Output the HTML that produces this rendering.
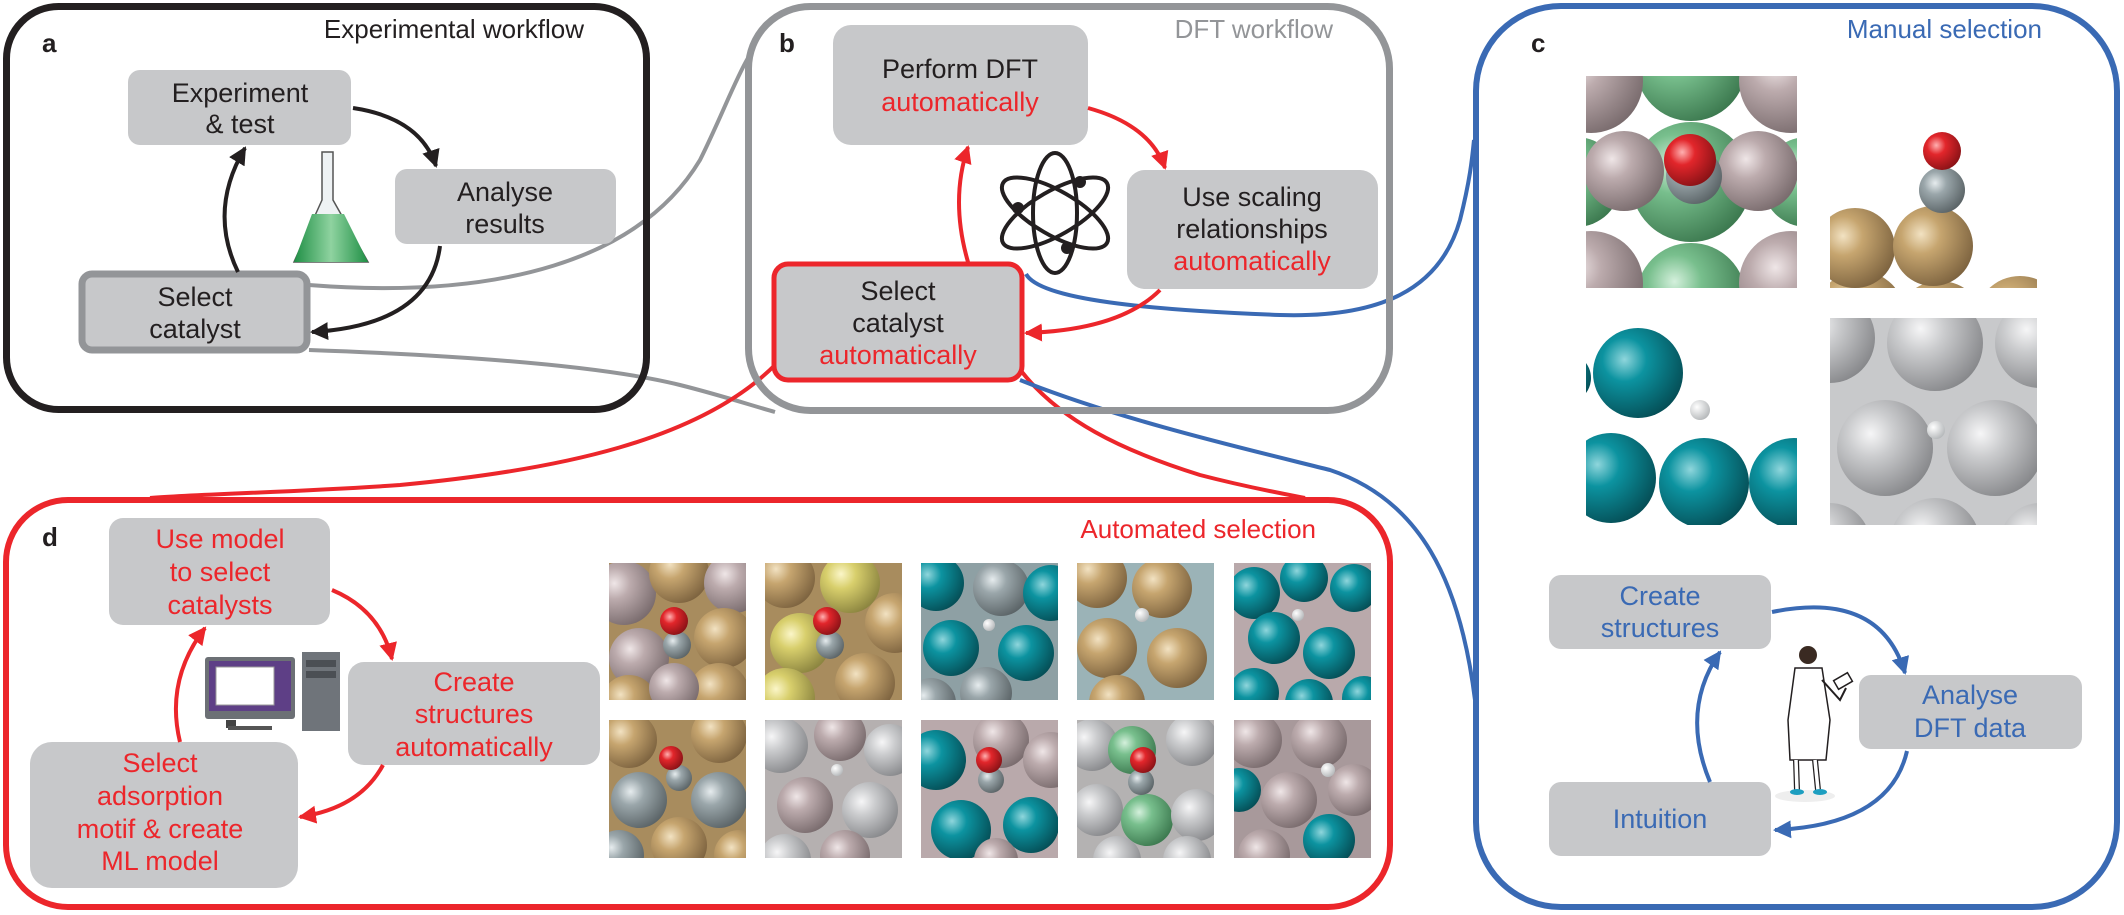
<!DOCTYPE html>
<html><head><meta charset="utf-8"><style>
html,body{margin:0;padding:0;background:#fff;}
svg{display:block;font-family:"Liberation Sans",sans-serif;}
</style></head><body>
<svg width="2124" height="915" viewBox="0 0 2124 915" xmlns="http://www.w3.org/2000/svg">
<defs>
<marker id="mk" markerUnits="userSpaceOnUse" markerWidth="22" markerHeight="22" refX="16" refY="9" orient="auto"><path d="M0,0 L18,9 L0,18 Z" fill="#231f20"/></marker>
<marker id="mr" markerUnits="userSpaceOnUse" markerWidth="22" markerHeight="22" refX="16" refY="9" orient="auto"><path d="M0,0 L18,9 L0,18 Z" fill="#ec262b"/></marker>
<marker id="mb" markerUnits="userSpaceOnUse" markerWidth="22" markerHeight="22" refX="16" refY="9" orient="auto"><path d="M0,0 L18,9 L0,18 Z" fill="#3a6ab4"/></marker>
<radialGradient id="gtan" cx="35%" cy="35%" r="70%"><stop offset="0" stop-color="#f2e2c2"/><stop offset=".35" stop-color="#c6a56f"/><stop offset="1" stop-color="#7e6440"/></radialGradient>
<radialGradient id="gteal" cx="35%" cy="35%" r="70%"><stop offset="0" stop-color="#8fd6dc"/><stop offset=".35" stop-color="#0c93a0"/><stop offset="1" stop-color="#054f57"/></radialGradient>
<radialGradient id="ggray" cx="35%" cy="35%" r="70%"><stop offset="0" stop-color="#e6ecee"/><stop offset=".35" stop-color="#9aa6aa"/><stop offset="1" stop-color="#5b6467"/></radialGradient>
<radialGradient id="glg" cx="35%" cy="35%" r="70%"><stop offset="0" stop-color="#f6f6f7"/><stop offset=".35" stop-color="#cbccce"/><stop offset="1" stop-color="#88898c"/></radialGradient>
<radialGradient id="gpink" cx="35%" cy="35%" r="70%"><stop offset="0" stop-color="#efe6e7"/><stop offset=".35" stop-color="#bcabad"/><stop offset="1" stop-color="#7a6c6e"/></radialGradient>
<radialGradient id="ggreen" cx="35%" cy="35%" r="70%"><stop offset="0" stop-color="#d4f0dc"/><stop offset=".35" stop-color="#78bf8d"/><stop offset="1" stop-color="#3d7a50"/></radialGradient>
<radialGradient id="gred" cx="35%" cy="35%" r="70%"><stop offset="0" stop-color="#ffb0b0"/><stop offset=".35" stop-color="#e2262b"/><stop offset="1" stop-color="#8a1216"/></radialGradient>
<radialGradient id="gyel" cx="35%" cy="35%" r="70%"><stop offset="0" stop-color="#fbf6c8"/><stop offset=".35" stop-color="#d8cf6c"/><stop offset="1" stop-color="#8c8540"/></radialGradient>
<radialGradient id="gwh" cx="35%" cy="35%" r="70%"><stop offset="0" stop-color="#ffffff"/><stop offset="1" stop-color="#b5b8ba"/></radialGradient>
<linearGradient id="flaskg" x1="0" x2="1"><stop offset="0" stop-color="#1f8f45"/><stop offset=".5" stop-color="#8fd3a0"/><stop offset="1" stop-color="#1f8f45"/></linearGradient>
</defs>

<!-- connectors -->
<path d="M309,285 C500,300 640,260 700,160 C720,120 735,80 748,58" fill="none" stroke="#939598" stroke-width="4"/>
<path d="M309,350 C450,355 600,365 680,385 C720,395 750,405 775,412" fill="none" stroke="#939598" stroke-width="4"/>
<path d="M775,365 C700,440 560,470 400,485 C300,492 200,494 150,498" fill="none" stroke="#ec262b" stroke-width="4"/>
<path d="M1022,372 C1060,420 1120,450 1200,475 C1250,488 1290,495 1305,498" fill="none" stroke="#ec262b" stroke-width="4"/>
<path d="M1020,380 C1120,420 1250,450 1330,470 C1420,500 1460,580 1475,700" fill="none" stroke="#3a6ab4" stroke-width="4"/>
<path d="M1026,274 C1040,300 1150,310 1280,315 C1380,318 1440,290 1460,220 C1470,180 1472,160 1474,140" fill="none" stroke="#3a6ab4" stroke-width="4"/>

<!-- panel a -->
<rect x="6.5" y="6.5" width="640" height="403" rx="52" fill="none" stroke="#231f20" stroke-width="7"/>
<text x="42" y="52" font-size="26" font-weight="bold" fill="#231f20">a</text>
<text x="584" y="38" font-size="26" fill="#231f20" text-anchor="end">Experimental workflow</text>
<rect x="128" y="70" width="223" height="75" rx="12" fill="#c7c8ca"/>
<text x="240" y="93" font-size="27" fill="#231f20" text-anchor="middle" dominant-baseline="central">Experiment</text>
<text x="240" y="124" font-size="27" fill="#231f20" text-anchor="middle" dominant-baseline="central">&amp; test</text>
<rect x="395" y="169" width="221" height="75" rx="12" fill="#c7c8ca"/>
<text x="505" y="192" font-size="27" fill="#231f20" text-anchor="middle" dominant-baseline="central">Analyse</text>
<text x="505" y="224" font-size="27" fill="#231f20" text-anchor="middle" dominant-baseline="central">results</text>
<rect x="82" y="274" width="225" height="76" rx="10" fill="#c7c8ca" stroke="#939598" stroke-width="7"/>
<text x="195" y="297" font-size="27" fill="#231f20" text-anchor="middle" dominant-baseline="central">Select</text>
<text x="195" y="329" font-size="27" fill="#231f20" text-anchor="middle" dominant-baseline="central">catalyst</text>
<!-- flask -->
<path d="M322,152 L333,152 L333,200 L368,262 L294,262 L322,200 Z" fill="#eef2f4" stroke="#555" stroke-width="1.5"/>
<path d="M312,214 L344,214 L368,262 L294,262 Z" fill="url(#flaskg)"/>
<path d="M353,108 Q420,118 436,166" fill="none" stroke="#231f20" stroke-width="4" marker-end="url(#mk)"/>
<path d="M440,246 Q430,325 312,332" fill="none" stroke="#231f20" stroke-width="4" marker-end="url(#mk)"/>
<path d="M238,272 Q208,210 245,148" fill="none" stroke="#231f20" stroke-width="4" marker-end="url(#mk)"/>

<!-- panel b -->
<rect x="748.5" y="6.5" width="641" height="404" rx="62" fill="none" stroke="#939598" stroke-width="7"/>
<text x="779" y="52" font-size="26" font-weight="bold" fill="#231f20">b</text>
<text x="1333" y="38" font-size="26" fill="#939598" text-anchor="end">DFT workflow</text>
<rect x="833" y="25" width="255" height="120" rx="18" fill="#c7c8ca"/>
<text x="960" y="69" font-size="27" fill="#231f20" text-anchor="middle" dominant-baseline="central">Perform DFT</text>
<text x="960" y="102" font-size="27" fill="#ec262b" text-anchor="middle" dominant-baseline="central">automatically</text>
<rect x="1127" y="170" width="251" height="119" rx="18" fill="#c7c8ca"/>
<text x="1252" y="197" font-size="27" fill="#231f20" text-anchor="middle" dominant-baseline="central">Use scaling</text>
<text x="1252" y="229" font-size="27" fill="#231f20" text-anchor="middle" dominant-baseline="central">relationships</text>
<text x="1252" y="261" font-size="27" fill="#ec262b" text-anchor="middle" dominant-baseline="central">automatically</text>
<rect x="774" y="264" width="248" height="116" rx="14" fill="#c7c8ca" stroke="#ec262b" stroke-width="5"/>
<text x="898" y="291" font-size="27" fill="#231f20" text-anchor="middle" dominant-baseline="central">Select</text>
<text x="898" y="323" font-size="27" fill="#231f20" text-anchor="middle" dominant-baseline="central">catalyst</text>
<text x="898" y="355" font-size="27" fill="#ec262b" text-anchor="middle" dominant-baseline="central">automatically</text>
<g fill="none" stroke="#231f20" stroke-width="4">
<ellipse cx="1055" cy="213" rx="22" ry="60"/>
<ellipse cx="1055" cy="213" rx="22" ry="60" transform="rotate(60 1055 213)"/>
<ellipse cx="1055" cy="213" rx="22" ry="60" transform="rotate(-60 1055 213)"/>
</g>
<circle cx="1080" cy="182" r="6" fill="#231f20"/><circle cx="1018" cy="208" r="6" fill="#231f20"/><circle cx="1067" cy="248" r="6" fill="#231f20"/>
<path d="M1088,108 Q1150,125 1165,168" fill="none" stroke="#ec262b" stroke-width="4" marker-end="url(#mr)"/>
<path d="M1160,290 Q1120,330 1026,333" fill="none" stroke="#ec262b" stroke-width="4" marker-end="url(#mr)"/>
<path d="M968,262 Q950,200 968,147" fill="none" stroke="#ec262b" stroke-width="4" marker-end="url(#mr)"/>

<!-- panel c -->
<rect x="1476" y="6" width="641" height="901" rx="85" fill="none" stroke="#3a6ab4" stroke-width="6"/>
<text x="1531" y="52" font-size="26" font-weight="bold" fill="#231f20">c</text>
<text x="2042" y="38" font-size="26" fill="#3a6ab4" text-anchor="end">Manual selection</text>
<svg x="1586" y="76" width="211" height="212"><rect width="211" height="212" fill="#fff"/>
<circle cx="105" cy="106" r="60" fill="url(#ggreen)"/><circle cx="105" cy="-10" r="55" fill="url(#ggreen)"/><circle cx="105" cy="222" r="55" fill="url(#ggreen)"/><circle cx="-10" cy="106" r="45" fill="url(#ggreen)"/><circle cx="221" cy="106" r="45" fill="url(#ggreen)"/>
<circle cx="5" cy="5" r="52" fill="url(#gpink)"/><circle cx="205" cy="5" r="52" fill="url(#gpink)"/><circle cx="5" cy="207" r="52" fill="url(#gpink)"/><circle cx="205" cy="207" r="52" fill="url(#gpink)"/>
<circle cx="38" cy="95" r="40" fill="url(#gpink)"/><circle cx="172" cy="95" r="40" fill="url(#gpink)"/>
<circle cx="108" cy="100" r="28" fill="url(#ggray)"/><circle cx="104" cy="84" r="26" fill="url(#gred)"/></svg>
<svg x="1830" y="76" width="207" height="212"><rect width="207" height="212" fill="#fff"/>
<circle cx="30" cy="240" r="45" fill="url(#gtan)"/><circle cx="110" cy="250" r="45" fill="url(#gtan)"/><circle cx="190" cy="245" r="45" fill="url(#gtan)"/>
<circle cx="25" cy="172" r="40" fill="url(#gtan)"/><circle cx="103" cy="170" r="40" fill="url(#gtan)"/>
<circle cx="112" cy="114" r="23" fill="url(#ggray)"/><circle cx="112" cy="75" r="19" fill="url(#gred)"/></svg>
<svg x="1586" y="318" width="211" height="207"><rect width="211" height="207" fill="#fff"/>
<circle cx="52" cy="55" r="45" fill="url(#gteal)"/><circle cx="25" cy="160" r="45" fill="url(#gteal)"/><circle cx="118" cy="165" r="45" fill="url(#gteal)"/><circle cx="208" cy="165" r="45" fill="url(#gteal)"/><circle cx="-20" cy="60" r="25" fill="url(#gteal)"/>
<circle cx="114" cy="92" r="10" fill="url(#gwh)"/></svg>
<svg x="1830" y="318" width="207" height="207"><rect width="207" height="207" fill="#c8c9cb"/>
<circle cx="0" cy="20" r="45" fill="url(#glg)"/><circle cx="105" cy="25" r="48" fill="url(#glg)"/><circle cx="210" cy="25" r="45" fill="url(#glg)"/>
<circle cx="55" cy="130" r="48" fill="url(#glg)"/><circle cx="165" cy="130" r="48" fill="url(#glg)"/>
<circle cx="105" cy="225" r="45" fill="url(#glg)"/><circle cx="0" cy="225" r="40" fill="url(#glg)"/><circle cx="210" cy="225" r="40" fill="url(#glg)"/>
<circle cx="106" cy="112" r="9" fill="url(#gwh)"/></svg>
<rect x="1549" y="575" width="222" height="74" rx="12" fill="#c7c8ca"/>
<text x="1660" y="596" font-size="27" fill="#3a6ab4" text-anchor="middle" dominant-baseline="central">Create</text>
<text x="1660" y="628" font-size="27" fill="#3a6ab4" text-anchor="middle" dominant-baseline="central">structures</text>
<rect x="1859" y="675" width="223" height="74" rx="12" fill="#c7c8ca"/>
<text x="1970" y="695" font-size="27" fill="#3a6ab4" text-anchor="middle" dominant-baseline="central">Analyse</text>
<text x="1970" y="728" font-size="27" fill="#3a6ab4" text-anchor="middle" dominant-baseline="central">DFT data</text>
<rect x="1549" y="782" width="222" height="74" rx="12" fill="#c7c8ca"/>
<text x="1660" y="819" font-size="27" fill="#3a6ab4" text-anchor="middle" dominant-baseline="central">Intuition</text>
<path d="M1772,612 Q1880,590 1905,673" fill="none" stroke="#3a6ab4" stroke-width="4" marker-end="url(#mb)"/>
<path d="M1907,751 Q1890,825 1775,830" fill="none" stroke="#3a6ab4" stroke-width="4" marker-end="url(#mb)"/>
<path d="M1710,782 Q1680,710 1720,652" fill="none" stroke="#3a6ab4" stroke-width="4" marker-end="url(#mb)"/>
<!-- scientist -->
<ellipse cx="1805" cy="796" rx="30" ry="6" fill="#eee"/>
<circle cx="1808" cy="655" r="9" fill="#3a2a22"/>
<path d="M1795,668 L1822,668 L1830,720 L1826,760 L1790,760 L1788,720 Z" fill="#fff" stroke="#231f20" stroke-width="1.5"/>
<path d="M1796,760 L1797,790 M1815,760 L1818,790" stroke="#231f20" stroke-width="6"/>
<path d="M1796,760 L1797,790 M1815,760 L1818,790" stroke="#fff" stroke-width="3.5"/>
<ellipse cx="1797" cy="792" rx="7" ry="3" fill="#1d9ec0"/><ellipse cx="1820" cy="792" rx="7" ry="3" fill="#1d9ec0"/>
<path d="M1822,680 L1840,700 L1846,688" fill="none" stroke="#231f20" stroke-width="2"/>
<rect x="1835" y="676" width="16" height="10" fill="#fff" stroke="#231f20" stroke-width="1.5" transform="rotate(-30 1843 681)"/>

<!-- panel d -->
<rect x="6" y="500" width="1384" height="407" rx="62" fill="none" stroke="#ec262b" stroke-width="6"/>
<text x="42" y="546" font-size="26" font-weight="bold" fill="#231f20">d</text>
<text x="1316" y="538" font-size="26" fill="#ec262b" text-anchor="end">Automated selection</text>
<rect x="109" y="518" width="221" height="107" rx="14" fill="#c7c8ca"/>
<text x="220" y="539" font-size="27" fill="#ec262b" text-anchor="middle" dominant-baseline="central">Use model</text>
<text x="220" y="572" font-size="27" fill="#ec262b" text-anchor="middle" dominant-baseline="central">to select</text>
<text x="220" y="605" font-size="27" fill="#ec262b" text-anchor="middle" dominant-baseline="central">catalysts</text>
<rect x="348" y="662" width="252" height="103" rx="16" fill="#c7c8ca"/>
<text x="474" y="682" font-size="27" fill="#ec262b" text-anchor="middle" dominant-baseline="central">Create</text>
<text x="474" y="714" font-size="27" fill="#ec262b" text-anchor="middle" dominant-baseline="central">structures</text>
<text x="474" y="747" font-size="27" fill="#ec262b" text-anchor="middle" dominant-baseline="central">automatically</text>
<rect x="30" y="742" width="268" height="146" rx="22" fill="#c7c8ca"/>
<text x="160" y="763" font-size="27" fill="#ec262b" text-anchor="middle" dominant-baseline="central">Select</text>
<text x="160" y="796" font-size="27" fill="#ec262b" text-anchor="middle" dominant-baseline="central">adsorption</text>
<text x="160" y="829" font-size="27" fill="#ec262b" text-anchor="middle" dominant-baseline="central">motif &amp; create</text>
<text x="160" y="861" font-size="27" fill="#ec262b" text-anchor="middle" dominant-baseline="central">ML model</text>
<!-- computer -->
<rect x="205" y="657" width="90" height="62" rx="3" fill="#6c7075"/>
<rect x="209" y="661" width="82" height="50" fill="#5e3f86"/>
<rect x="216" y="667" width="58" height="38" fill="#fff" stroke="#999"/>
<rect x="226" y="720" width="10" height="8" fill="#444"/><rect x="228" y="726" width="44" height="4" fill="#555"/>
<rect x="302" y="652" width="38" height="79" fill="#6f747a"/>
<rect x="306" y="660" width="30" height="7" fill="#4b4f54"/><rect x="306" y="671" width="30" height="7" fill="#4b4f54"/>
<path d="M332,590 Q380,610 392,659" fill="none" stroke="#ec262b" stroke-width="4" marker-end="url(#mr)"/>
<path d="M383,765 Q360,808 300,817" fill="none" stroke="#ec262b" stroke-width="4" marker-end="url(#mr)"/>
<path d="M180,742 Q165,680 205,628" fill="none" stroke="#ec262b" stroke-width="4" marker-end="url(#mr)"/>

<!-- d tiles row 1 -->
<svg x="609" y="563" width="137" height="137"><rect width="137" height="137" fill="#a88c5e"/>
<circle cx="15" cy="30" r="32" fill="url(#gpink)"/><circle cx="70" cy="10" r="30" fill="url(#gtan)"/><circle cx="125" cy="20" r="30" fill="url(#gpink)"/><circle cx="115" cy="75" r="30" fill="url(#gtan)"/><circle cx="30" cy="95" r="30" fill="url(#gpink)"/><circle cx="20" cy="140" r="28" fill="url(#gtan)"/><circle cx="110" cy="130" r="30" fill="url(#gtan)"/><circle cx="65" cy="125" r="25" fill="url(#gpink)"/>
<circle cx="68" cy="82" r="14" fill="url(#ggray)"/><circle cx="65" cy="58" r="14" fill="url(#gred)"/></svg>
<svg x="765" y="563" width="137" height="137"><rect width="137" height="137" fill="#a88c5e"/>
<circle cx="20" cy="15" r="30" fill="url(#gtan)"/><circle cx="85" cy="20" r="30" fill="url(#gyel)"/><circle cx="130" cy="60" r="30" fill="url(#gtan)"/><circle cx="35" cy="80" r="30" fill="url(#gyel)"/><circle cx="20" cy="135" r="30" fill="url(#gyel)"/><circle cx="100" cy="120" r="30" fill="url(#gtan)"/>
<circle cx="65" cy="82" r="14" fill="url(#ggray)"/><circle cx="62" cy="58" r="14" fill="url(#gred)"/></svg>
<svg x="921" y="563" width="137" height="137"><rect width="137" height="137" fill="#8ea0a4"/>
<circle cx="15" cy="20" r="28" fill="url(#gteal)"/><circle cx="80" cy="25" r="28" fill="url(#ggray)"/><circle cx="130" cy="30" r="28" fill="url(#gteal)"/><circle cx="30" cy="85" r="28" fill="url(#gteal)"/><circle cx="105" cy="90" r="28" fill="url(#gteal)"/><circle cx="65" cy="130" r="26" fill="url(#ggray)"/><circle cx="10" cy="140" r="25" fill="url(#ggray)"/>
<circle cx="68" cy="62" r="6" fill="url(#gwh)"/></svg>
<svg x="1077" y="563" width="137" height="137"><rect width="137" height="137" fill="#9bb3b7"/>
<circle cx="20" cy="15" r="30" fill="url(#gtan)"/><circle cx="85" cy="25" r="30" fill="url(#gtan)"/><circle cx="30" cy="85" r="30" fill="url(#gtan)"/><circle cx="100" cy="95" r="30" fill="url(#gtan)"/><circle cx="40" cy="140" r="28" fill="url(#gtan)"/>
<circle cx="65" cy="52" r="7" fill="url(#gwh)"/></svg>
<svg x="1234" y="563" width="137" height="137"><rect width="137" height="137" fill="#b9a9ab"/>
<circle cx="20" cy="30" r="26" fill="url(#gteal)"/><circle cx="70" cy="15" r="24" fill="url(#gteal)"/><circle cx="120" cy="25" r="24" fill="url(#gteal)"/><circle cx="40" cy="75" r="26" fill="url(#gteal)"/><circle cx="95" cy="90" r="26" fill="url(#gteal)"/><circle cx="20" cy="130" r="25" fill="url(#gteal)"/><circle cx="75" cy="140" r="24" fill="url(#gteal)"/><circle cx="130" cy="135" r="22" fill="url(#gteal)"/>
<circle cx="64" cy="52" r="6" fill="url(#gwh)"/></svg>
<!-- row 2 -->
<svg x="609" y="720" width="137" height="138"><rect width="137" height="138" fill="#a88c5e"/>
<circle cx="20" cy="20" r="28" fill="url(#gtan)"/><circle cx="110" cy="15" r="28" fill="url(#gtan)"/><circle cx="30" cy="80" r="28" fill="url(#ggray)"/><circle cx="110" cy="80" r="28" fill="url(#ggray)"/><circle cx="70" cy="125" r="28" fill="url(#gtan)"/><circle cx="10" cy="135" r="25" fill="url(#ggray)"/><circle cx="130" cy="135" r="25" fill="url(#gtan)"/>
<circle cx="70" cy="58" r="13" fill="url(#ggray)"/><circle cx="62" cy="38" r="12" fill="url(#gred)"/></svg>
<svg x="765" y="720" width="137" height="138"><rect width="137" height="138" fill="#b5b0b0"/>
<circle cx="15" cy="25" r="28" fill="url(#glg)"/><circle cx="75" cy="15" r="26" fill="url(#gpink)"/><circle cx="125" cy="30" r="26" fill="url(#glg)"/><circle cx="40" cy="85" r="28" fill="url(#gpink)"/><circle cx="105" cy="90" r="28" fill="url(#glg)"/><circle cx="20" cy="140" r="26" fill="url(#glg)"/><circle cx="80" cy="135" r="25" fill="url(#gpink)"/>
<circle cx="72" cy="50" r="6" fill="url(#gwh)"/></svg>
<svg x="921" y="720" width="137" height="138"><rect width="137" height="138" fill="#b9a9ab"/>
<circle cx="15" cy="40" r="30" fill="url(#gteal)"/><circle cx="80" cy="20" r="28" fill="url(#gpink)"/><circle cx="130" cy="40" r="28" fill="url(#gpink)"/><circle cx="40" cy="110" r="30" fill="url(#gteal)"/><circle cx="110" cy="105" r="28" fill="url(#gteal)"/><circle cx="75" cy="140" r="22" fill="url(#gpink)"/>
<circle cx="70" cy="60" r="13" fill="url(#ggray)"/><circle cx="68" cy="40" r="13" fill="url(#gred)"/></svg>
<svg x="1077" y="720" width="137" height="138"><rect width="137" height="138" fill="#b4b2b2"/>
<circle cx="15" cy="25" r="26" fill="url(#glg)"/><circle cx="55" cy="30" r="24" fill="url(#ggreen)"/><circle cx="115" cy="20" r="26" fill="url(#glg)"/><circle cx="20" cy="90" r="26" fill="url(#glg)"/><circle cx="70" cy="100" r="26" fill="url(#ggreen)"/><circle cx="120" cy="95" r="26" fill="url(#glg)"/><circle cx="40" cy="140" r="24" fill="url(#glg)"/><circle cx="110" cy="140" r="24" fill="url(#glg)"/>
<circle cx="64" cy="62" r="13" fill="url(#ggray)"/><circle cx="66" cy="40" r="13" fill="url(#gred)"/></svg>
<svg x="1234" y="720" width="137" height="138"><rect width="137" height="138" fill="#a8999b"/>
<circle cx="20" cy="20" r="28" fill="url(#gpink)"/><circle cx="85" cy="20" r="28" fill="url(#gpink)"/><circle cx="5" cy="70" r="22" fill="url(#gteal)"/><circle cx="55" cy="80" r="28" fill="url(#gpink)"/><circle cx="120" cy="70" r="26" fill="url(#gpink)"/><circle cx="95" cy="120" r="26" fill="url(#gteal)"/><circle cx="30" cy="135" r="26" fill="url(#gpink)"/>
<circle cx="94" cy="50" r="7" fill="url(#gwh)"/></svg>
</svg>
</body></html>
